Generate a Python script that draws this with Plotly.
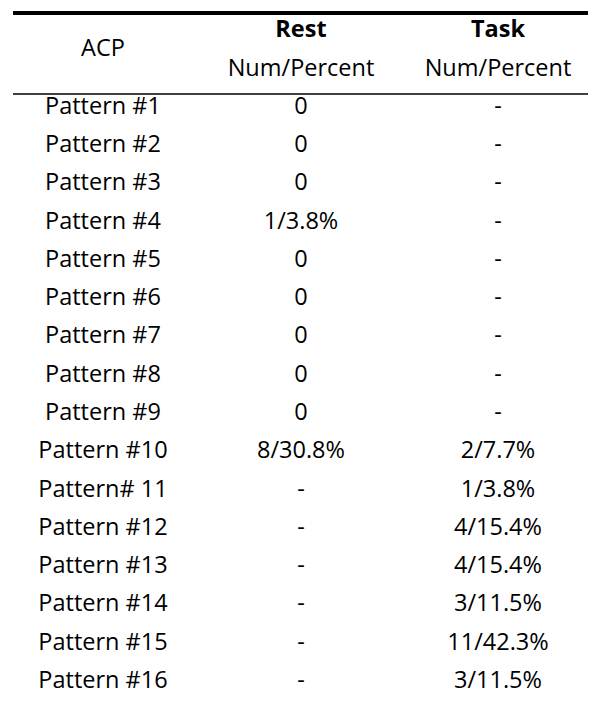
import plotly.graph_objects as go

patterns = ["Pattern #1", "Pattern #2", "Pattern #3", "Pattern #4", "Pattern #5",
            "Pattern #6", "Pattern #7", "Pattern #8", "Pattern #9", "Pattern #10",
            "Pattern# 11", "Pattern #12", "Pattern #13", "Pattern #14", "Pattern #15",
            "Pattern #16"]
rest = ["0", "0", "0", "1/3.8%", "0", "0", "0", "0", "0", "8/30.8%",
        "-", "-", "-", "-", "-", "-"]
task = ["-", "-", "-", "-", "-", "-", "-", "-", "-", "2/7.7%",
        "1/3.8%", "4/15.4%", "4/15.4%", "3/11.5%", "11/42.3%", "3/11.5%"]
col_x = [95, 293, 490]

W, H = 596, 703
row0, step = 100, 38.27
def to_row(px):
    return (px - row0) / step

font = dict(family="Open Sans", size=23.5, color="black")
rows = list(range(len(patterns)))

fig = go.Figure()
for x, vals in zip(col_x, [patterns, rest, task]):
    fig.add_trace(go.Scatter(x=[x] * len(vals), y=rows, text=vals, mode="text",
                             textfont=font, hoverinfo="skip"))

# header (text shifted up ~5px to match baseline)
fig.add_trace(go.Scatter(x=[col_x[0]], y=[to_row(42)], text=["ACP"], mode="text",
                         textfont=font, hoverinfo="skip"))
fig.add_trace(go.Scatter(x=col_x[1:], y=[to_row(23)] * 2, text=["<b>Rest</b>", "<b>Task</b>"],
                         mode="text", textfont=font, hoverinfo="skip"))
fig.add_trace(go.Scatter(x=col_x[1:], y=[to_row(62)] * 2, text=["Num/Percent"] * 2,
                         mode="text", textfont=font, hoverinfo="skip"))

for yp, w in [(5, 4), (86, 1.5), (697, 4)]:
    fig.add_shape(type="line", xref="x", yref="y", x0=5, x1=591,
                  y0=to_row(yp), y1=to_row(yp), line=dict(color="black", width=w))

fig.update_layout(width=W, height=H, margin=dict(l=0, r=0, t=0, b=0),
                  plot_bgcolor="white", paper_bgcolor="white", showlegend=False,
                  xaxis=dict(range=[0, W], visible=False),
                  yaxis=dict(range=[to_row(H), to_row(0)], visible=False))
fig.write_html("out.html")
